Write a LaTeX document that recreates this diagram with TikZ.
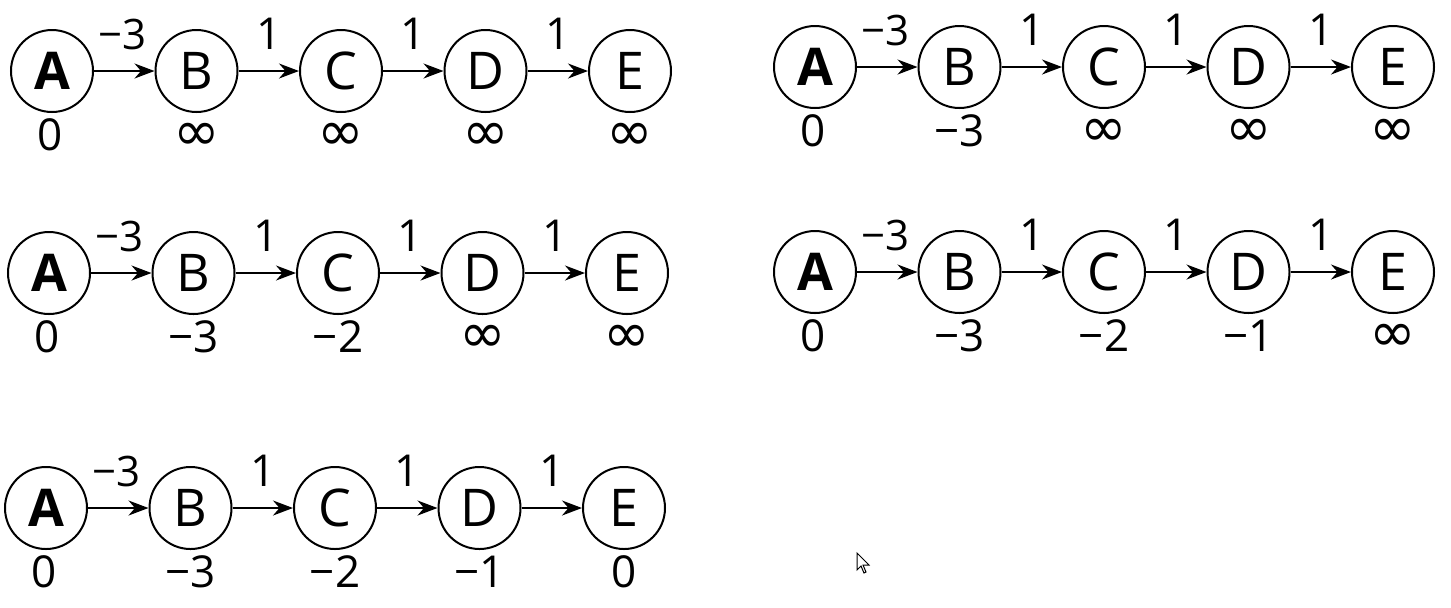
\documentclass[tikz,border=0pt]{standalone}
\usepackage{fontspec}
\setmainfont{Open Sans}
\newfontfamily\inffont{DejaVu Sans}
\usetikzlibrary{arrows.meta}
\newcommand\infsym{{\inffont\fontsize{28}{28}\selectfont ∞}}
\newcommand\chainrow[7]{%
  \node[vtx] (#1A) at (#2,#3) {\bfseries A};
  \node[vtx] (#1B) at ({#2+144.5},#3) {B};
  \node[vtx] (#1C) at ({#2+289},#3) {C};
  \node[vtx] (#1D) at ({#2+433.5},#3) {D};
  \node[vtx] (#1E) at ({#2+578},#3) {E};
  \node[dist] (#1dA) at ({#2-2},{#3+79}) {0};
  \node[dist] (#1dB) at ({#2+144.5},{#3+79}) {#4};
  \node[dist] (#1dC) at ({#2+289},{#3+79}) {#5};
  \node[dist] (#1dD) at ({#2+433.5},{#3+79}) {#6};
  \node[dist] (#1dE) at ({#2+578},{#3+79}) {#7};
  \draw[edge] (#1A) -- node[wlab,font=\fontsize{21}{21}\selectfont,xshift=-1pt] (#1wAB) {−3} (#1B);
  \draw[edge] (#1B) -- node[wlab] (#1wBC) {1} (#1C);
  \draw[edge] (#1C) -- node[wlab] (#1wCD) {1} (#1D);
  \draw[edge] (#1D) -- node[wlab] (#1wDE) {1} (#1E);
}
\begin{document}
\begin{tikzpicture}[x=0.5pt,y=-0.5pt,
  vtx/.style={circle,draw,line width=1pt,minimum size=41pt,inner sep=0pt,font=\fontsize{26}{26}\selectfont},
  dist/.style={anchor=base,inner sep=0pt,font=\fontsize{22}{22}\selectfont},
  wlab/.style={midway,anchor=base,yshift=11pt,inner sep=0pt,font=\fontsize{22}{22}\selectfont},
  edge/.style={line width=0.8pt,-{Stealth[length=10pt,width=7.5pt]}}]
\useasboundingbox (0,0) rectangle (1451,607);
\chainrow{p}{52}{71}{\infsym}{\infsym}{\infsym}{\infsym}
\chainrow{q}{815}{67}{−3}{\infsym}{\infsym}{\infsym}
\chainrow{r}{49}{273}{−3}{−2}{\infsym}{\infsym}
\chainrow{s}{815}{272}{−3}{−2}{−1}{\infsym}
\chainrow{t}{46}{508}{−3}{−2}{−1}{0}
\draw[line width=0.5pt,fill=white,line join=miter]
  (857,553) -- (857,570) -- (861,566) -- (864,573) -- (866,572) -- (863,565) -- (869,565) -- cycle;
\end{tikzpicture}
\end{document}
